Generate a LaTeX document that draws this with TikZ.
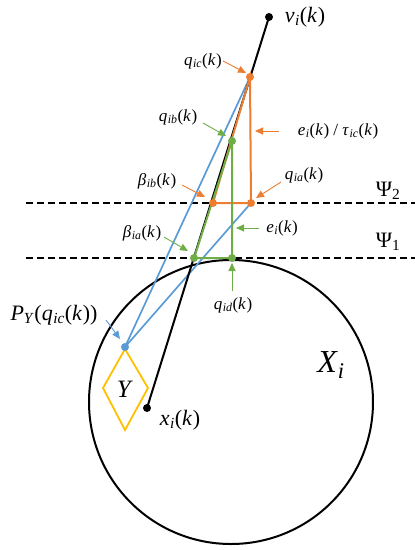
\documentclass[tikz,border=0pt]{standalone}
\usepackage{fontspec}
\setmainfont{Liberation Serif}
\usetikzlibrary{arrows.meta}
\definecolor{ora}{HTML}{ED7D31}
\definecolor{gre}{HTML}{70AD47}
\definecolor{blu}{HTML}{5B9BD5}
\definecolor{yel}{HTML}{FFC000}
\newcommand\labq[2]{\textit{#1}\textsubscript{\kern0.5pt\textit{#2}}(\textit{k}\kern0.5pt)}
\tikzset{
  mainline/.style={line width=2pt},
  dotnode/.style={circle,fill,inner sep=0pt,minimum size=8pt},
  ptr/.style={line width=0.9pt,-{Triangle[length=8pt,width=7pt]}},
  lbl/.style={font=\fontsize{17}{17}\selectfont, inner sep=0pt},
  biglbl/.style={font=\fontsize{22}{22}\selectfont, inner sep=0pt},
  guide/.style={line width=1.8pt, dash pattern=on 7pt off 4pt},
}
\begin{document}
\begin{tikzpicture}[x=1pt,y=-1pt]
\useasboundingbox (0,0) rectangle (415,550);
% key points
\coordinate (C) at (231,402);
\coordinate (v) at (269,17);
\coordinate (qic) at (250,77);
\coordinate (qib) at (232,141);
\coordinate (bib) at (213,203);
\coordinate (qia) at (251,203);
\coordinate (bia) at (194,258);
\coordinate (qid) at (232,258);
\coordinate (PY) at (125,347);
\coordinate (x) at (147,408);
\coordinate (dT) at (125,349);
\coordinate (dL) at (103,388);
\coordinate (dB) at (125,430);
\coordinate (dR) at (148,388);
\coordinate (g2a) at (26,203);
\coordinate (g2b) at (415,203);
\coordinate (g1a) at (26,258);
\coordinate (g1b) at (415,258);
% guides
\draw[guide] (g2a) -- (g2b);
\draw[guide] (g1a) -- (g1b);
% circle
\draw[mainline] (C) circle[radius=142pt];
% blue lines
\draw[blu,line width=1.7pt] (PY) -- (qic);
\draw[blu,line width=1.7pt] (PY) -- (qia);
% black line
\draw[mainline] (x) -- (v);
% orange
\draw[ora,mainline] (qic) -- (bib) -- (qia) -- cycle;
% green
\draw[gre,mainline] (qib) -- (bia) -- (qid) -- cycle;
% diamond
\draw[yel,line width=1.8pt] (dT) -- (dL) -- (dB) -- (dR) -- cycle;
% dots
\node[dotnode] (nv) at (v) {};
\node[dotnode] (nx) at (x) {};
\node[dotnode,ora] (nqic) at (qic) {};
\node[dotnode,ora] (nbib) at (bib) {};
\node[dotnode,ora] (nqia) at (qia) {};
\node[dotnode,gre] (nqib) at (qib) {};
\node[dotnode,gre] (nbia) at (bia) {};
\node[dotnode,gre] (nqid) at (qid) {};
\node[dotnode,blu] (nPY) at (PY) {};
% labels
\node[biglbl] (Lv) at (305,17) {\labq{v}{i}};
\node[lbl] (Lqic) at (203,61) {\labq{q}{ic}};
\node[lbl] (Lqib) at (178,117) {\labq{q}{ib}};
\node[lbl] (Let) at (338,131) {\labq{e}{i} / \labq{τ}{ic}};
\node[lbl] (Lqia) at (304,175) {\labq{q}{ia}};
\node[lbl] (Lbib) at (157,181) {\labq{β}{ib}};
\node[lbl] (Lbia) at (142,233) {\labq{β}{ia}};
\node[lbl] (Lei) at (282,228) {\labq{e}{i}};
\node[lbl] (Lqid) at (233,305) {\labq{q}{id}};
\node[biglbl] (LPY) at (54,315) {\textit{P}\textsubscript{\textit{Y}}(\labq{q}{ic})};
\node[biglbl] (LP2) at (388,191) {Ψ\textsubscript{2}};
\node[biglbl] (LP1) at (388,242) {Ψ\textsubscript{1}};
\node[biglbl,font=\fontsize{25}{25}\selectfont] (LY) at (125,389) {\textit{Y}};
\node[biglbl] (Lx) at (180,420) {\labq{x}{i}};
\node[biglbl,font=\fontsize{32}{32}\selectfont] (LX) at (331,365) {\textit{X}\textsubscript{\textit{i}}};
% pointer ends
\coordinate (t1) at (223,61);  \coordinate (h1) at (246,73);
\coordinate (t2) at (203,123); \coordinate (h2) at (226,136);
\coordinate (t3) at (279,131); \coordinate (h3) at (255,131);
\coordinate (t4) at (281,182); \coordinate (h4) at (256,198);
\coordinate (t5) at (182,185); \coordinate (h5) at (205,197);
\coordinate (t6) at (164,237); \coordinate (h6) at (188,251);
\coordinate (t7) at (259,228); \coordinate (h7) at (236,228);
\coordinate (t8) at (232,291); \coordinate (h8) at (232,263);
\coordinate (t9) at (106,320); \coordinate (h9) at (120,339);
% pointers
\draw[ptr,ora] (t1) -- (h1);
\draw[ptr,gre] (t2) -- (h2);
\draw[ptr,ora] (t3) -- (h3);
\draw[ptr,ora] (t4) -- (h4);
\draw[ptr,ora] (t5) -- (h5);
\draw[ptr,gre] (t6) -- (h6);
\draw[ptr,gre] (t7) -- (h7);
\draw[ptr,gre] (t8) -- (h8);
\draw[ptr,blu] (t9) -- (h9);
\end{tikzpicture}
\end{document}
